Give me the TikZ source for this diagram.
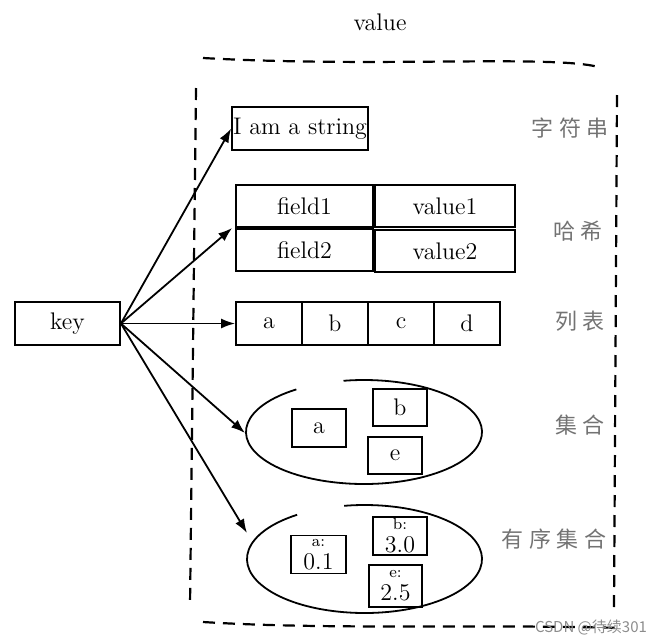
\documentclass[tikz,border=0pt]{standalone}
\usepackage{fontspec}
\newfontfamily\cjk[LetterSpace=25]{Noto Sans CJK SC}
\newfontfamily\cjkmark{Noto Sans CJK SC}
\usetikzlibrary{calc, arrows.meta}

\tikzset{
	cell/.style = {draw, line width=0.9pt, inner sep=0pt, font=\fontsize{12}{11.5}\selectfont},
	tag/.style = {text=black!55, font=\cjk\fontsize{11}{12}\selectfont},
	link/.style = {-{Latex[length=7pt, width=5pt]}, line width=0.9pt},
	frame/.style = {line width=1.1pt, dash pattern=on 6pt off 4pt}
}

\begin{document}
\begin{tikzpicture}[x = 0.5pt, y = -0.5pt]
			\useasboundingbox (0, 0) rectangle (663, 643);
			\node[font=\fontsize{12}{14}\selectfont] (title) at (380, 22) {value};
			% dashed frame round the values
			\draw[frame] (203, 58) .. controls (380, 68) and (560, 54) .. (602, 68);
			\draw[frame] (196, 88) -- (190, 606);
			\draw[frame] (617, 95) -- (614, 610);
			\draw[frame] (203, 622) .. controls (330, 630) and (480, 624) .. (622, 628);
			% key and the string
			\node[cell, minimum width=52.5pt, minimum height=21.5pt] (key) at (67.5, 323.5) {key};
			\node[cell, minimum width=68pt, minimum height=21.5pt] (str) at (300, 128.5) {I am a string};
			% hash
			\node[cell, minimum width=68.5pt, minimum height=21pt] (f1) at (304.5, 206) {field1};
			\node[cell, minimum width=70pt, minimum height=21pt] (v1) at (445, 206) {value1};
			\node[cell, minimum width=68.5pt, minimum height=21pt] (f2) at (304.5, 250) {field2};
			\node[cell, minimum width=70pt, minimum height=21pt] (v2) at (445, 251) {value2};
			\coordinate (hashin) at ($(f1.south west)!0.5!(f2.north west) + (-3, 0)$);
			% list
			\foreach \t [count=\i] in {a, b, c, d}
				\node[cell, minimum width=33pt, minimum height=21.5pt] (l\i) at (203 + 66*\i, 323.5) {\t};
			% set
			\draw[line width=0.9pt] (364, 432) ++(125:59pt and 26pt) arc (125:460:59pt and 26pt);
			\node[cell, minimum width=27pt, minimum height=19pt] (sa) at (319, 428) {a};
			\node[cell, minimum width=27pt, minimum height=18.5pt] (sb) at (400, 407.5) {b};
			\node[cell, minimum width=27pt, minimum height=18.5pt] (se) at (395, 455.5) {e};
			\coordinate (setin) at (245, 433);
			% sorted set
			\draw[line width=0.9pt] (364.5, 559) ++(125:58.75pt and 27pt) arc (125:460:58.75pt and 27pt);
			\node[cell, minimum width=27.5pt, minimum height=19pt, align=center] (za) at (318.5, 554.5) {{\fontsize{8}{8}\selectfont a:}\\0.1};
			\node[cell, minimum width=27pt, minimum height=19pt, align=center] (zb) at (400, 536) {{\fontsize{8}{8}\selectfont b:}\\3.0};
			\node[cell, minimum width=26.5pt, minimum height=21pt, align=center] (ze) at (395.5, 586) {{\fontsize{8}{8}\selectfont e:}\\2.5};
			\coordinate (zsetin) at (247, 533);
			% arrows from the key
			\draw[link] (key.east) -- (str.west);
			\draw[link] (key.east) -- (hashin);
			\draw[link] (key.east) -- (l1.west);
			\draw[link] (key.east) -- (setin);
			\draw[link] (key.east) -- (zsetin);
			% type names
			\node[tag] (tstr) at (570, 128) {字符串};
			\node[tag] (thash) at (578, 231) {哈希};
			\node[tag] (tlist) at (580, 321) {列表};
			\node[tag] (tset) at (580, 425) {集合};
			\node[tag] (tzset) at (554, 539) {有序集合};
			\node[text=black!45, font=\cjkmark\fontsize{7.5}{9}\selectfont] (mark) at (591, 627) {CSDN @待续301};
\end{tikzpicture}
\end{document}
